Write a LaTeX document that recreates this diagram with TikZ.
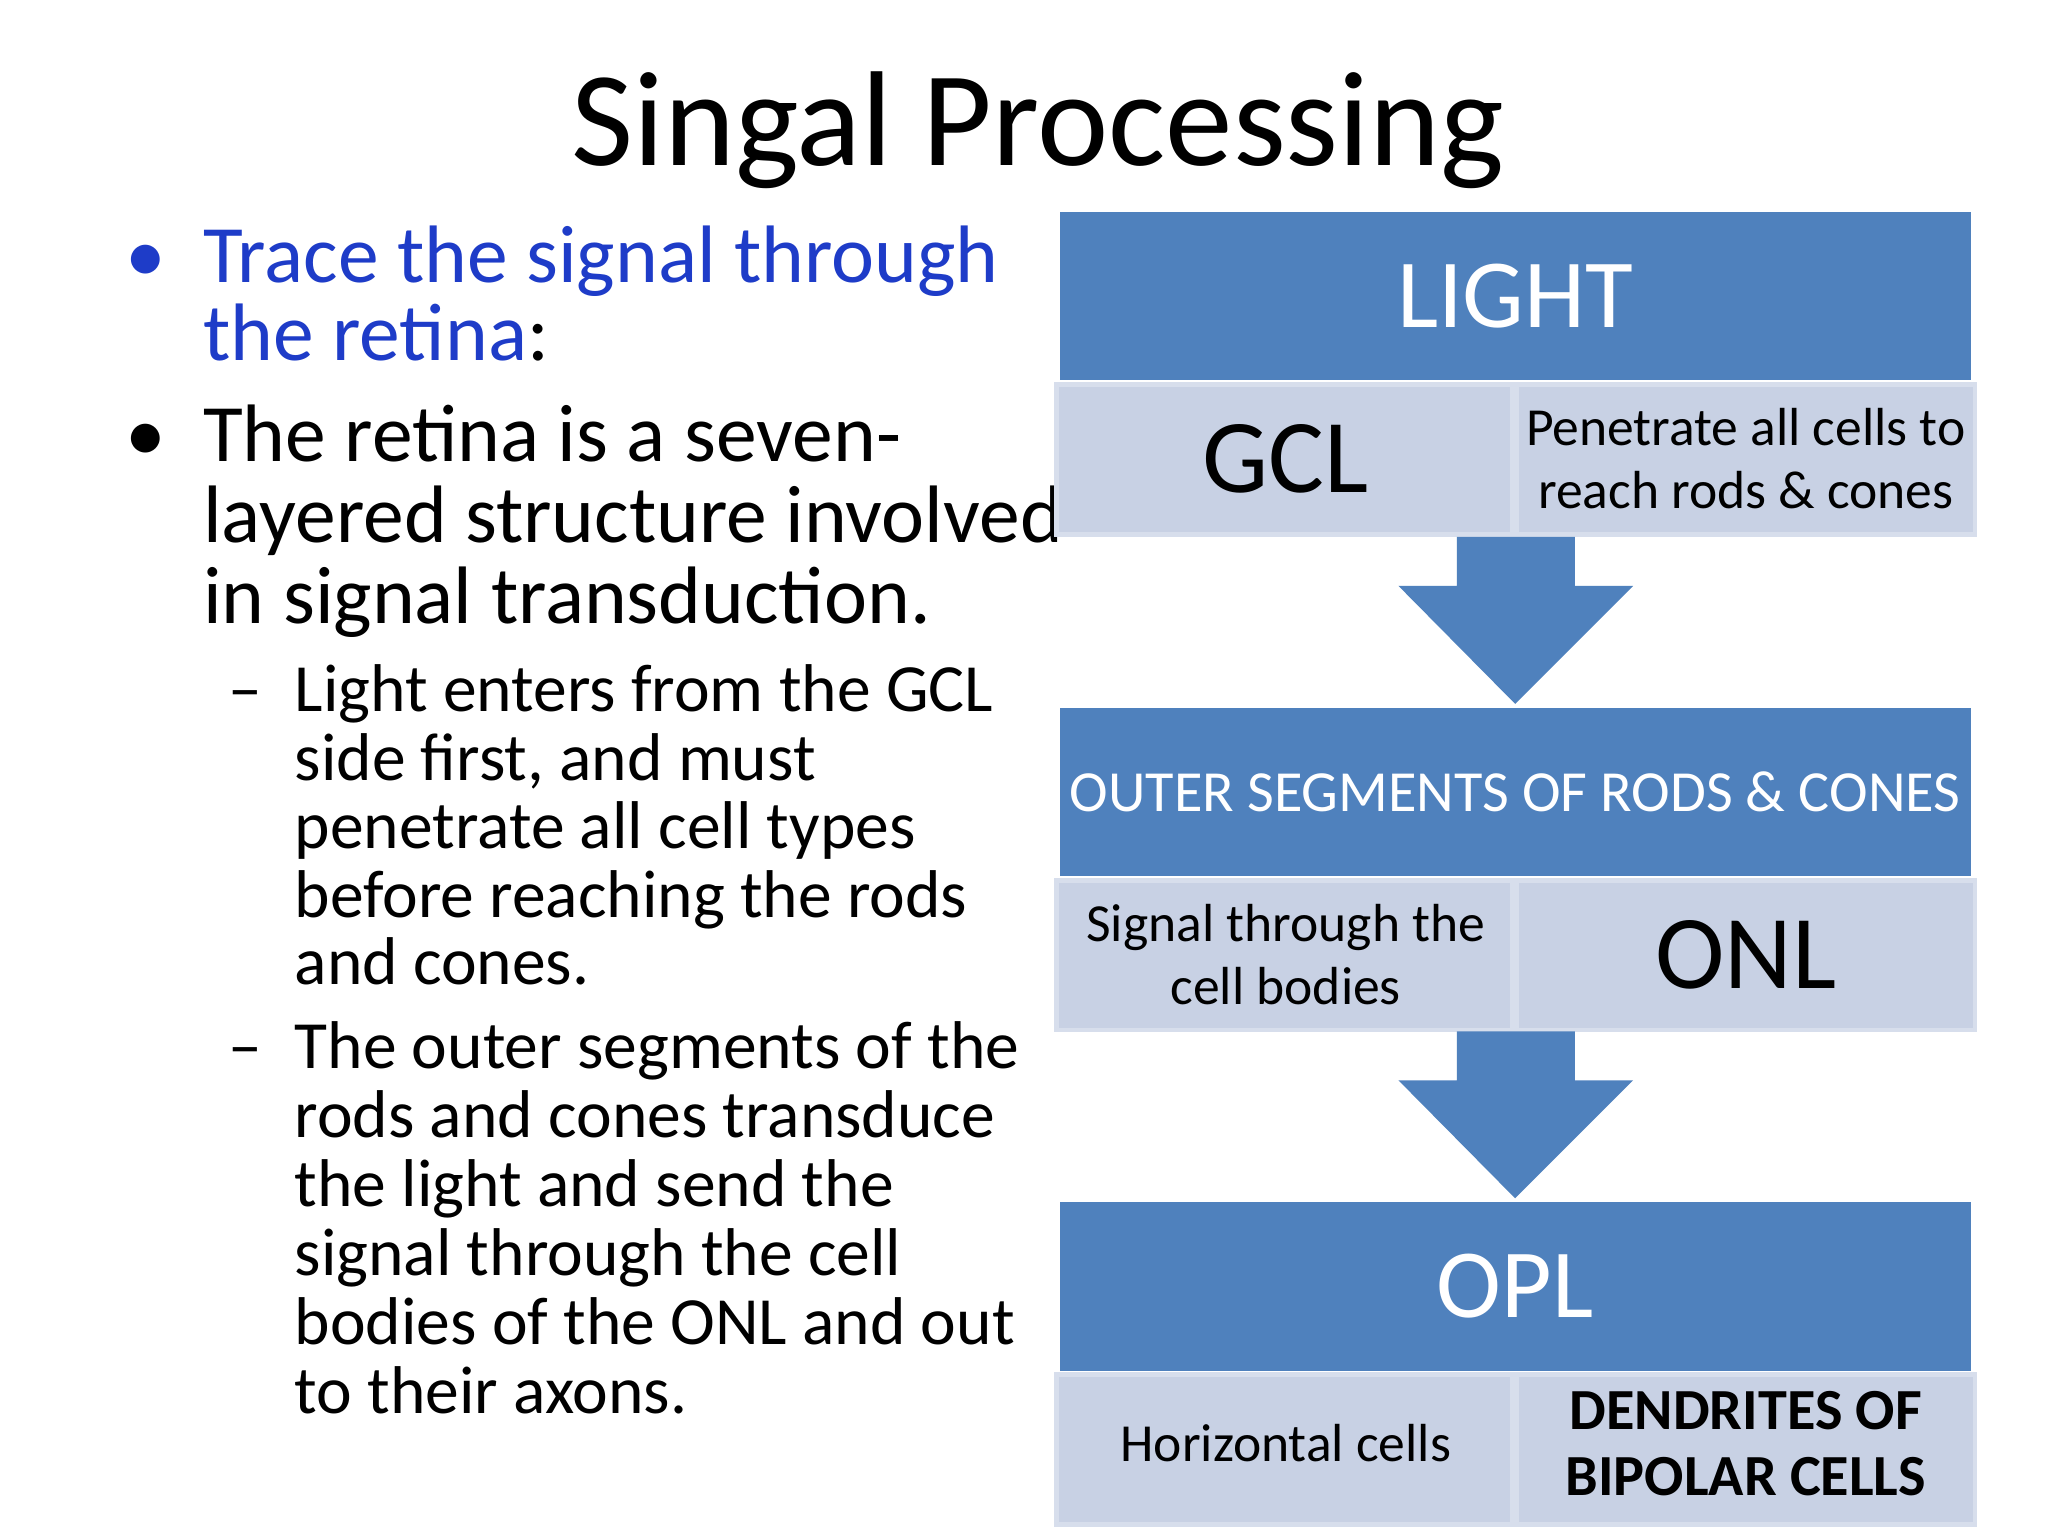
\documentclass[tikz,border=0pt]{standalone}
\usepackage{fontspec}
\setmainfont{Carlito}
\definecolor{bb}{RGB}{79,129,189}
\definecolor{lb}{RGB}{200,209,228}
\definecolor{lbd}{RGB}{215,222,236}
\definecolor{tb}{RGB}{30,60,200}
\begin{document}
\begin{tikzpicture}[x=0.02cm,y=-0.02cm,
  blue/.style={fill=bb,draw=none},
  lite/.style={fill=lb,draw=lbd,line width=2pt},
  wt/.style={text=white,anchor=center},
  bt/.style={text=black,anchor=center,align=center},
  ln/.style={anchor=base west,inner sep=0pt,font=\fontsize{35}{35}\selectfont},
  sl/.style={anchor=base west,inner sep=0pt,font=\fontsize{29}{29}\selectfont}]
\useasboundingbox[fill=white] (0,0) rectangle (1545,1159);
\node[anchor=base,inner sep=0pt,font=\fontsize{58}{58}\selectfont] (title) at (783,125) {Singal Processing};
% left text
\node[ln,text=tb] (b1) at (94,213) {\textbullet};
\node[ln,text=tb] (l1) at (153,213) {Trace the signal through};
\node[ln] (l2) at (153,272) {\textcolor{tb}{the retina}:};
\node[ln] (b2) at (94,348) {\textbullet};
\node[ln] (l3) at (153,348) {The retina is a seven-};
\node[ln] (l4) at (153,409) {layered structure involved};
\node[ln] (l5) at (153,470) {in signal transduction.};
\node[sl] (d1) at (172,537) {–};
\node[sl] (s1) at (222,537) {Light enters from the GCL};
\node[sl] (s2) at (222,589) {side first, and must};
\node[sl] (s3) at (222,640) {penetrate all cell types};
\node[sl] (s4) at (222,692) {before reaching the rods};
\node[sl] (s5) at (222,743) {and cones.};
\node[sl] (d2) at (172,806) {–};
\node[sl] (t1) at (222,806) {The outer segments of the};
\node[sl] (t2) at (222,858) {rods and cones transduce};
\node[sl] (t3) at (222,910) {the light and send the};
\node[sl] (t4) at (222,962) {signal through the cell};
\node[sl] (t5) at (222,1014) {bodies of the ONL and out};
\node[sl] (t6) at (222,1066) {to their axons.};
% right diagram
\foreach \y in {160,534,907}{
  \fill[bb] (800,\y) rectangle (1487,\y+127);
  \draw[lite] (797,\y+130) rectangle (1141,\y+243);
  \draw[lite] (1144,\y+130) rectangle (1490,\y+243);
}
\foreach \y in {405,778}{
  \fill[bb] (1099,\y) -- (1188,\y) -- (1188,\y+37) -- (1232,\y+37) -- (1143,\y+126) -- (1055,\y+37) -- (1099,\y+37) -- cycle;
}
\node[wt,font=\fontsize{42}{42}\selectfont] (light) at (1143,223) {LIGHT};
\node[bt,font=\fontsize{45}{45}\selectfont] (gcl) at (970,346) {GCL};
\node[bt,font=\fontsize{23}{27}\selectfont] (pen) at (1317,346) {Penetrate all cells to\\reach rods \& cones};
\node[wt,font=\fontsize{25}{25}\selectfont] (outer) at (1143,597) {OUTER SEGMENTS OF RODS \& CONES};
\node[bt,font=\fontsize{23}{27}\selectfont] (sig) at (970,720) {Signal through the\\cell bodies};
\node[bt,font=\fontsize{45}{45}\selectfont] (onl) at (1317,720) {ONL};
\node[wt,font=\fontsize{42}{42}\selectfont] (opl) at (1143,970) {OPL};
\node[bt,font=\fontsize{23}{27}\selectfont] (hor) at (970,1089) {Horizontal cells};
\node[bt,font=\bfseries\fontsize{25}{28}\selectfont] (den) at (1317,1089) {DENDRITES OF\\BIPOLAR CELLS};
\end{tikzpicture}
\end{document}
